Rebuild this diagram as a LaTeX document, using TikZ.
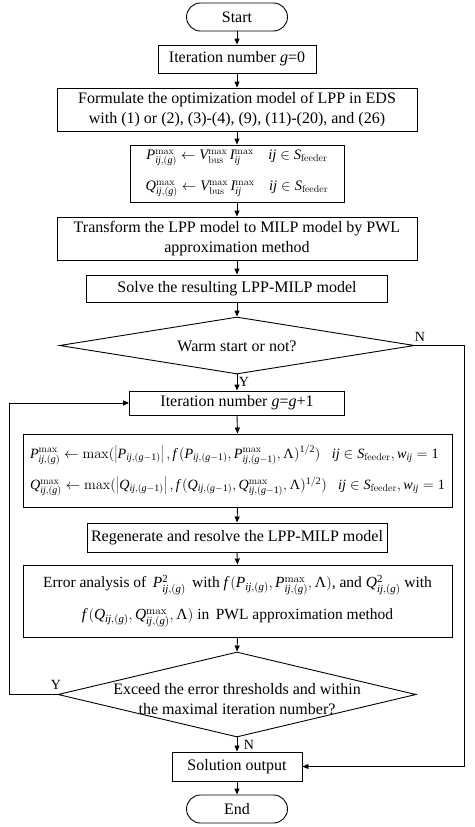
\documentclass[tikz,border=0pt]{standalone}
\usepackage{mathspec}
\setmainfont{Liberation Serif}
\setmathsfont(Digits,Latin,Greek){Liberation Serif}
\usetikzlibrary{shapes.geometric,arrows.meta}
\begin{document}
\begin{tikzpicture}[x=1pt,y=-1pt,
  txt/.style={font=\fontsize{16}{20}\selectfont},
  mth/.style={font=\fontsize{14.5}{17}\selectfont},
  box/.style={draw, line width=0.9pt, rectangle, inner sep=0pt, align=center, txt},
  term/.style={box, rounded corners=14pt},
  dia/.style={draw, diamond, inner sep=0pt, line width=0.9pt},
  arr/.style={-{Triangle[length=6pt,width=5pt]}, line width=0.9pt},
  lab/.style={font=\fontsize{14}{16}\selectfont, inner sep=0pt}]
\useasboundingbox (0,0) rectangle (474,827);

\node[term, minimum width=101pt, minimum height=28pt] (start) at (237,17) {Start};
\node[box, minimum width=158pt, minimum height=28pt] (g0) at (237,59) {Iteration number \textit{g}=0};
\node[box, minimum width=360pt, minimum height=43pt] (form) at (237,109.5)
  {Formulate the optimization model of LPP in EDS\\with (1) or (2), (3)-(4), (9), (11)-(20), and (26)};
\node[box, mth, minimum width=214pt, minimum height=57pt] (pm1) at (237,173.5)
  {$P_{ij,(g)}^{\max}\leftarrow V_{\mathrm{bus}}^{\max}\,I_{ij}^{\max}\hspace{1em} ij\in S_{\mathrm{feeder}}$\\[14pt]
   $Q_{ij,(g)}^{\max}\leftarrow V_{\mathrm{bus}}^{\max}\,I_{ij}^{\max}\hspace{1em} ij\in S_{\mathrm{feeder}}$};
\node[box, minimum width=360pt, minimum height=43pt] (trans) at (237,238.5)
  {Transform the LPP model to MILP model by PWL\\approximation method};
\node[box, minimum width=301pt, minimum height=27pt] (solve) at (237,288.5) {Solve the resulting LPP-MILP model};
\node[dia, minimum width=355pt, minimum height=57pt] (warm) at (237,345.5) {};
\node[txt] (warmt) at (237,346) {Warm start or not?};
\node[box, minimum width=215pt, minimum height=24pt] (g1) at (237,403) {Iteration number \textit{g}=\textit{g}+1};
\node[box, font=\fontsize{14.2}{17}\selectfont, minimum width=429pt, minimum height=73pt, align=left] (pm2) at (237.5,470.5)
  {$P_{ij,(g)}^{\max}\leftarrow \max(\left|P_{ij,(g-1)}\right|,f\,(P_{ij,(g-1)},P_{ij,(g-1)}^{\max},\Lambda)^{1/2})\hspace{0.8em} ij\in S_{\mathrm{feeder}},w_{ij}=1$\\[11pt]
   $Q_{ij,(g)}^{\max}\leftarrow \max(\left|Q_{ij,(g-1)}\right|,f\,(Q_{ij,(g-1)},Q_{ij,(g-1)}^{\max},\Lambda)^{1/2})\hspace{0.8em} ij\in S_{\mathrm{feeder}},w_{ij}=1$};
\node[box, minimum width=300pt, minimum height=29pt] (regen) at (237,537.5) {Regenerate and resolve the LPP-MILP model};
\node[box, font=\fontsize{15.5}{19}\selectfont, minimum width=429pt, minimum height=72pt] (err) at (237.5,601)
  {Error analysis of \,$P_{ij,(g)}^{2}$\, with $f\,(P_{ij,(g)},P_{ij,(g)}^{\max},\Lambda)$, and $Q_{ij,(g)}^{2}$ with\\[13pt]
   $f\,(Q_{ij,(g)},Q_{ij,(g)}^{\max},\Lambda)$ in\, PWL approximation method};
\node[dia, minimum width=358pt, minimum height=85pt] (exc) at (237,694.5) {};
\node[txt, align=center] (exct) at (237,699) {Exceed the error thresholds and within\\the maximal iteration number?};
\node[box, minimum width=130pt, minimum height=29pt] (sol) at (237,766.5) {Solution output};
\node[term, minimum width=101pt, minimum height=28pt] (end) at (237,809) {End};

\coordinate (lx) at (9,0);
\coordinate (rx) at (464,0);

\draw[arr] (start.south) -- (g0.north);
\draw[arr] (g0.south) -- (form.north);
\draw[arr] (form.south) -- (pm1.north);
\draw[arr] (pm1.south) -- (trans.north);
\draw[arr] (trans.south) -- (solve.north);
\draw[arr] (solve.south) -- (warm.north);
\draw[arr] (warm.south) -- (g1.north);
\draw[arr] (g1.south) -- (pm2.north);
\draw[arr] (pm2.south) -- (regen.north);
\draw[arr] (regen.south) -- (err.north);
\draw[arr] (err.south) -- (exc.north);
\draw[arr] (exc.south) -- (sol.north);
\draw[arr] (sol.south) -- (end.north);
\draw[arr] (exc.west) -- (exc.west -| lx) |- (g1.west);
\draw[arr] (warm.east) -- (warm.east -| rx) |- (sol.east);

\node[lab] (y1) at (244,382) {Y};
\node[lab] (n1) at (420,337) {N};
\node[lab] (y2) at (56,685) {Y};
\node[lab] (n2) at (249,745) {N};
\end{tikzpicture}
\end{document}
